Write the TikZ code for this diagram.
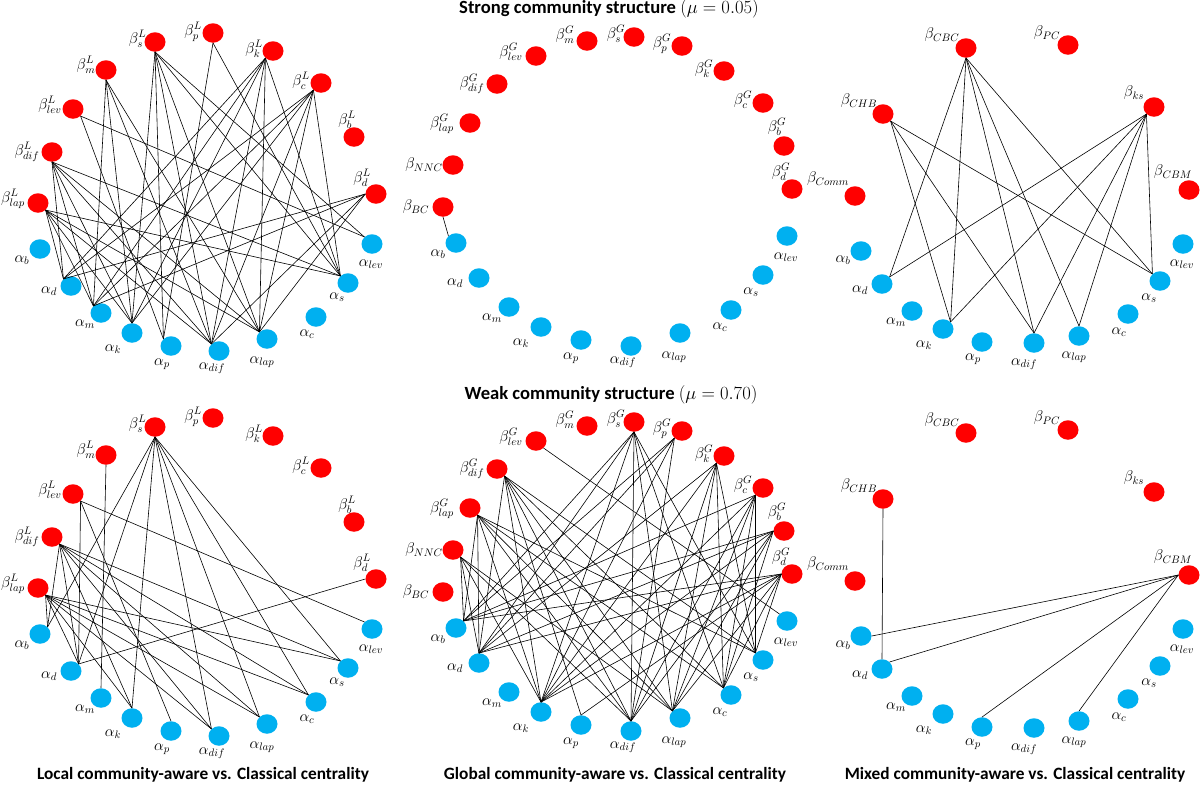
\RequirePackage{fix-cm}
\documentclass[tikz,border=0pt]{standalone}
\usepackage{fontspec}
\setsansfont{Carlito}
\usetikzlibrary{shapes.geometric}
\definecolor{nodered}{HTML}{FF0000}
\definecolor{nodeblue}{HTML}{00B0F0}
\tikzset{
  rn/.style={ellipse, fill=nodered, draw=none, minimum width=21pt, minimum height=19.5pt, inner sep=0pt},
  bn/.style={ellipse, fill=nodeblue, draw=none, minimum width=21pt, minimum height=19.5pt, inner sep=0pt},
  lab/.style={inner sep=0pt, font=\fontsize{15.5}{16}\selectfont},
  edge/.style={line width=0.6pt, black},
  ttl/.style={inner sep=0pt, font=\sffamily\bfseries\fontsize{18.6}{21}\selectfont},
  captxt/.style={inner sep=0pt, font=\sffamily\bfseries\fontsize{17.3}{20}\selectfont}
}
\newcommand{\LeftNodes}{%
  \foreach \n/\x/\y/\lx/\ly/\lbl in {
    bs/155/42/137.5/38.7/{$\beta_s^L$},
    bp/213/33/193/32/{$\beta_p^L$},
    bk/273/51/254/49/{$\beta_k^L$},
    bm/106/70/86/65/{$\beta_m^L$},
    bc/321/83/301/81/{$\beta_c^L$},
    blev/73/109/50/105/{$\beta_{lev}^L$},
    bb/354/137/347/120/{$\beta_b^L$},
    bdif/52/152/27/152/{$\beta_{dif}^L$},
    bd/376/194/362/178/{$\beta_d^L$},
    blap/38/203/13/199/{$\beta_{lap}^L$}}
  {\node[rn] (\n) at (\x,\y) {}; \node[lab] (\n-l) at (\lx,\ly) {\lbl};}
  \foreach \n/\x/\y/\lx/\ly/\lbl in {
    ab/40/249/22/260/{$\alpha_b$},
    alev/372/244/371/264/{$\alpha_{lev}$},
    ad/71/286/49/291/{$\alpha_d$},
    as/348/283/337/297/{$\alpha_s$},
    am/101/313/85/324/{$\alpha_m$},
    ac/316/317/307/334/{$\alpha_c$},
    ak/132/333/113/349/{$\alpha_k$},
    ap/171/346/162/364/{$\alpha_p$},
    adif/219/351/212/368/{$\alpha_{dif}$},
    alap/267/339/262/362/{$\alpha_{lap}$}}
  {\node[bn] (\n) at (\x,\y) {}; \node[lab] (\n-l) at (\lx,\ly) {\lbl};}
}
\newcommand{\MidNodes}{%
  \foreach \n/\x/\y/\lx/\ly/\lbl in {
    bm/587/41/565/35/{$\beta_m^G$},
    bs/634/37/616/34/{$\beta_s^G$},
    bp/682/46/662/44/{$\beta_p^G$},
    blev/536/56/511/52/{$\beta_{lev}^G$},
    bk/724/71/704/69/{$\beta_k^G$},
    bdif/497/84/472/84/{$\beta_{dif}^G$},
    bc/763/103/743/100/{$\beta_c^G$},
    blap/470/123/442/124/{$\beta_{lap}^G$},
    bb/784/146/777/127/{$\beta_b^G$},
    bnnc/453/165/424/165/{$\beta_{NNC}$},
    bd/792/189/781/172/{$\beta_d^G$},
    bbc/443/207/416/207/{$\beta_{BC}$}}
  {\node[rn] (\n) at (\x,\y) {}; \node[lab] (\n-l) at (\lx,\ly) {\lbl};}
  \foreach \n/\x/\y/\lx/\ly/\lbl in {
    ab/456/243/438/254/{$\alpha_b$},
    alev/787/236/786/257/{$\alpha_{lev}$},
    ad/479/278/455/283/{$\alpha_d$},
    as/763/275/751/292/{$\alpha_s$},
    am/509/307/492/318/{$\alpha_m$},
    ac/731/310/720/327/{$\alpha_c$},
    ak/541/327/521/343/{$\alpha_k$},
    ap/581/340/571/358/{$\alpha_p$},
    adif/631/346/623/362/{$\alpha_{dif}$},
    alap/680/333/674/357/{$\alpha_{lap}$}}
  {\node[bn] (\n) at (\x,\y) {}; \node[lab] (\n-l) at (\lx,\ly) {\lbl};}
}
\newcommand{\RightNodes}{%
  \foreach \n/\x/\y/\lx/\ly/\lbl in {
    bcbc/966/48/942/35/{$\beta_{CBC}$},
    bpc/1068/45/1047/33/{$\beta_{PC}$},
    bchb/883/114/859/101/{$\beta_{CHB}$},
    bks/1154/107/1134/93/{$\beta_{ks}$},
    bcomm/855/196/828/179/{$\beta_{Comm}$},
    bcbm/1189/190/1173/172/{$\beta_{CBM}$}}
  {\node[rn] (\n) at (\x,\y) {}; \node[lab] (\n-l) at (\lx,\ly) {\lbl};}
  \foreach \n/\x/\y/\lx/\ly/\lbl in {
    ab/861/251/843/260/{$\alpha_b$},
    alev/1183/244/1182/264/{$\alpha_{lev}$},
    ad/882/284/860/290/{$\alpha_d$},
    as/1160/281/1149/298/{$\alpha_s$},
    am/912/311/896/322/{$\alpha_m$},
    ac/1128/314/1119/332/{$\alpha_c$},
    ak/943/329/924/345/{$\alpha_k$},
    ap/982/342/973/359/{$\alpha_p$},
    adif/1034/343/1024/364/{$\alpha_{dif}$},
    alap/1079/336/1074/357/{$\alpha_{lap}$}}
  {\node[bn] (\n) at (\x,\y) {}; \node[lab] (\n-l) at (\lx,\ly) {\lbl};}
}
\begin{document}
\begin{tikzpicture}[x=1pt,y=-1pt]
\useasboundingbox[fill=white] (0,0) rectangle (1200,785);

% ---------- titles ----------
\node[ttl] (title1) at (609,9) {Strong community structure \mdseries$(\mu=0.05)$};
\node[ttl] (title2) at (611,395) {Weak community structure \mdseries$(\mu=0.70)$};
\node[captxt] (cap1) at (203,775) {Local community-aware vs. Classical centrality};
\node[captxt] (cap2) at (615,775) {Global community-aware vs. Classical centrality};
\node[captxt] (cap3) at (1015,775) {Mixed community-aware vs. Classical centrality};

% ---------- top left ----------
\begin{scope}[name prefix=TL-]
  \LeftNodes
  \foreach \n/\anc in {bm/south, bs/south, bp/south, bk/south west, bc/south west,
      blev/south east, bdif/south, blap/south east, bd/west,
      ad/north west, am/north west, ak/north, ap/north west, adif/north west,
      alap/north west, as/north west, alev/north west}
    \coordinate (\n-p) at (\n.\anc);
  \foreach \src/\dst in {bm/am, bm/ak, bm/adif, bm/alap,
      bs/ak, bs/ap, bs/adif, bs/alap, bs/as, bs/alev,
      bp/ap, bp/as,
      bk/ad, bk/am, bk/ak, bk/adif, bk/alap, bk/as,
      bc/ad, bc/am, bc/ak, bc/adif, bc/alap, bc/as,
      blev/alev, blev/ap,
      bdif/ad, bdif/am, bdif/ak, bdif/adif, bdif/alap, bdif/as,
      blap/ad, blap/am, blap/ak, blap/adif, blap/alap, blap/as,
      bd/ad, bd/am, bd/adif, bd/alap}
    \draw[edge] (\src-p) -- (\dst-p);
\end{scope}

% ---------- top middle ----------
\begin{scope}[name prefix=TM-]
  \MidNodes
  \draw[edge] (bbc.south) -- (ab.north west);
\end{scope}

% ---------- top right ----------
\begin{scope}[name prefix=TR-]
  \RightNodes
  \foreach \n/\anc in {bcbc/south, bchb/south east, bks/south west,
      ad/north east, ak/north east, adif/north, alap/north, as/north west}
    \coordinate (\n-p) at (\n.\anc);
  \foreach \src/\dst in {bcbc/ad, bcbc/ak, bcbc/adif, bcbc/alap, bcbc/as,
      bchb/ak, bchb/adif, bchb/as,
      bks/ad, bks/ak, bks/adif, bks/alap, bks/as}
    \draw[edge] (\src-p) -- (\dst-p);
\end{scope}

% ---------- bottom left ----------
\begin{scope}[shift={(0,385)}, name prefix=BL-]
  \LeftNodes
  \foreach \n/\anc in {bs/south, bm/south, blev/south east, bdif/south east,
      blap/south east, bd/west,
      ab/north east, ad/north east, am/north, ak/north, ap/north,
      adif/north west, alap/north west, ac/north west, as/north west, alev/north west}
    \coordinate (\n-p) at (\n.\anc);
  \foreach \src/\dst in {bs/ab, bs/ad, bs/ak, bs/adif, bs/alap, bs/ac, bs/as,
      bm/am,
      blev/ad, blev/ap, blev/alev,
      bdif/ab, bdif/ad, bdif/ak, bdif/adif, bdif/alap, bdif/ac, bdif/as,
      blap/ab, blap/ad, blap/ak, blap/adif, blap/alap, blap/ac, blap/as,
      bd/ad}
    \draw[edge] (\src-p) -- (\dst-p);
\end{scope}

% ---------- bottom middle ----------
\begin{scope}[shift={(0,385)}, name prefix=BM-]
  \MidNodes
  \foreach \n/\anc in {blev/south east, bs/south, bp/south west, bdif/south east,
      bk/south west, blap/south east, bc/south west, bnnc/south east, bb/west, bd/west,
      ab/north east, ad/north, ak/north, ap/north, adif/north,
      alap/north west, ac/north west, as/north west, alev/north west}
    \coordinate (\n-p) at (\n.\anc);
  \foreach \src/\dst in {blev/alev,
      bs/ab, bs/ad, bs/ak, bs/adif, bs/alap, bs/ac, bs/as,
      bp/ab, bp/ad, bp/ak, bp/adif,
      bk/ad, bk/ak, bk/adif, bk/alap, bk/ac, bk/as,
      bdif/ad, bdif/ak, bdif/ap, bdif/adif, bdif/alap, bdif/ac, bdif/as,
      blap/ab, blap/ad, blap/ak, blap/adif, blap/alap, blap/ac, blap/as,
      bnnc/ab, bnnc/ad, bnnc/ak, bnnc/adif, bnnc/alap,
      bc/ab, bc/ak, bc/adif, bc/alap, bc/ac, bc/as,
      bb/ab, bb/ad, bb/ak, bb/adif, bb/alap, bb/ac,
      bd/ab, bd/ad, bd/ak, bd/ap, bd/alap, bd/ac, bd/as}
    \draw[edge] (\src-p) -- (\dst-p);
\end{scope}

% ---------- bottom right ----------
\begin{scope}[shift={(0,385)}, name prefix=BR-]
  \RightNodes
  \draw[edge] (bchb.south) -- (ad.north);
  \draw[edge] (bcbm.west) -- (ab.east);
  \draw[edge] (bcbm.west) -- (ad.north east);
  \draw[edge] (bcbm.west) -- (ap.north);
  \draw[edge] (bcbm.west) -- (alap.north);
\end{scope}
\end{tikzpicture}
\end{document}
